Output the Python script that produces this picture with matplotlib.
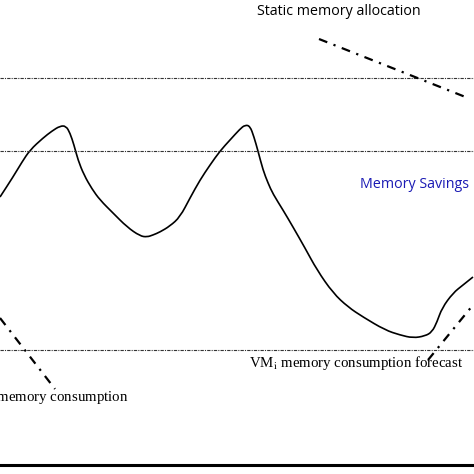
import numpy as np
import matplotlib.pyplot as plt
from matplotlib.path import Path
from matplotlib.patches import PathPatch

# Diagram drawn in a 474 x 474 pixel frame (y grows downward)
W, H = 474, 474

# VM memory consumption curve (time, memory level in pixel units)
curve_t = [0, 13, 22, 30, 43, 52, 60, 66, 70, 74, 78, 84, 92, 100, 113, 127, 140, 147, 153,
           160, 170, 180, 190, 200, 210, 220, 230, 240, 245, 250, 254, 258, 263, 268, 273,
           283, 293, 305, 317, 333, 348, 363, 385, 400, 413, 425, 432, 437, 442, 453, 463, 473]
curve_y = [197, 177, 162, 150, 138, 131, 126, 126, 133, 145, 160, 175, 189, 200, 213, 227, 236, 237, 235,
           232, 226, 217, 198, 180, 165, 151, 140, 129, 125, 126, 137, 151, 170, 183, 194,
           210, 227, 248, 270, 293, 307, 317, 330, 335, 338, 336, 332, 322, 308, 293, 285, 277]

# horizontal reference levels
levels = [78, 151, 350]

# dash-dot pointer lines (x0, y0, x1, y1)
pointers = [(319, 39, 468, 98), (0, 318, 55, 389), (428, 360, 473, 305)]

plt.rcParams['mathtext.fontset'] = 'stix'

fig = plt.figure(figsize=(4.74, 4.74), dpi=100)
ax = fig.add_axes([0, 0, 1, 1])
ax.set_xlim(0, W)
ax.set_ylim(H, 0)
ax.axis('off')

for lv in levels:
    ax.plot([0, W], [lv, lv], color='#333333', linewidth=0.8, linestyle=(0, (3, 1, 1, 1)))

# smooth curve: quadratic bezier segments through midpoints of the read points
pts = np.column_stack([curve_t, curve_y]).astype(float)
mids = (pts[:-1] + pts[1:]) / 2
verts = [pts[0], mids[0]]
codes = [Path.MOVETO, Path.LINETO]
for i in range(1, len(pts) - 1):
    verts += [pts[i], mids[i]]
    codes += [Path.CURVE3, Path.CURVE3]
verts.append(pts[-1])
codes.append(Path.LINETO)
ax.add_patch(PathPatch(Path(verts, codes), facecolor='none', edgecolor='black', linewidth=1.2))

for x0, y0, x1, y1 in pointers:
    ax.plot([x0, x1], [y0, y1], color='black', linewidth=1.6, linestyle=(0, (4, 3, 1, 3)))

# bottom base line
ax.plot([0, W], [465, 465], color='black', linewidth=2.2)

ax.text(339, 11, "Static memory allocation", ha='center', va='center',
        fontsize=10.3, family='Open Sans', color='black')
ax.text(415, 184, "Memory Savings", ha='center', va='center',
        fontsize=10.3, family='Open Sans', color='#1a1ab4')
ax.text(356, 363, "VM$_\\mathrm{i}$ memory consumption forecast", ha='center', va='center',
        fontsize=10.7, family='Liberation Serif', color='black')
ax.text(128, 397, "VM$_\\mathrm{i}$ memory consumption", ha='right', va='center',
        fontsize=10.7, family='Liberation Serif', color='black')

fig.savefig("out.png", dpi=100)
